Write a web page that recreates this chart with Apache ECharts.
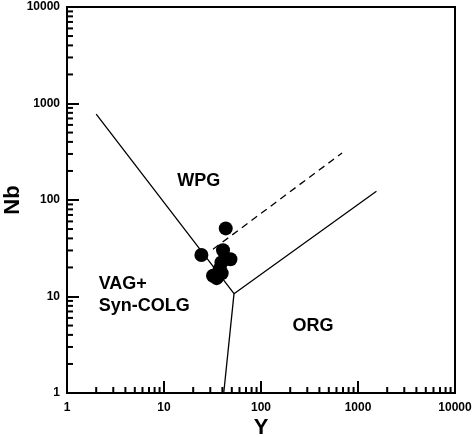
<!DOCTYPE html>
<html>
<head>
<meta charset="utf-8">
<script src="https://cdn.jsdelivr.net/npm/echarts@6/dist/echarts.min.js"></script>
<style>
  html, body { margin: 0; padding: 0; background: #fff; }
  #chart { width: 474px; height: 437px; }
</style>
</head>
<body>
<div id="chart"></div>
<script>
// samples: Y and Nb (ppm)
const sampleY = [43.3, 24.3, 40.6, 48.4, 39.1, 37.5, 39.3, 32.0, 34.9];
const sampleNb = [50.8, 26.9, 30.1, 24.3, 22.5, 19.2, 17.4, 16.4, 15.5];

// field boundaries (Pearce et al. style Nb-Y diagram)
const wpgLineY = [2.0, 52.7, 1549];
const wpgLineNb = [776, 10.7, 123];
const orgLineY = [52.7, 41.3];
const orgLineNb = [10.7, 1];
const dashedY = [32, 684];
const dashedNb = [30.9, 307];

// field names and where they sit
const fieldNames = ["WPG", "VAG+\nSyn-COLG", "ORG"];
const fieldY = [22.8, 2.12, 344];
const fieldNb = [159, 10.3, 4.95];

const majorTicks = [1, 10, 100, 1000, 10000];
const minorTicks = [
  2, 3, 4, 5, 6, 7, 8, 9,
  20, 30, 40, 50, 60, 70, 80, 90,
  200, 300, 400, 500, 600, 700, 800, 900,
  2000, 3000, 4000, 5000, 6000, 7000, 8000, 9000,
];

const zip = (a, b) => a.map((v, i) => [v, b[i]]);

const font = "Liberation Sans, Arial, sans-serif";

function minorTickItem(horizontal) {
  return function (params, api) {
    const p = api.coord([api.value(0), api.value(1)]);
    const len = 6;
    return {
      type: "line",
      shape: horizontal
        ? { x1: p[0], y1: p[1], x2: p[0], y2: p[1] - len }
        : { x1: p[0], y1: p[1], x2: p[0] + len, y2: p[1] },
      style: { stroke: "#000", lineWidth: 2 },
    };
  };
}

function logAxis(name, gap, labelMargin) {
  return {
    type: "log",
    logBase: 10,
    min: majorTicks[0],
    max: majorTicks[majorTicks.length - 1],
    name: name,
    nameLocation: "middle",
    nameGap: gap,
    nameMoveOverlap: false,
    nameTextStyle: { fontFamily: font, fontWeight: "bold", fontSize: 22, color: "#000" },
    axisLine: { show: true, lineStyle: { color: "#000", width: 2 } },
    axisTick: { show: true, inside: true, length: 12, lineStyle: { color: "#000", width: 2 } },
    minorTick: { show: false },
    splitLine: { show: false },
    axisLabel: {
      margin: labelMargin,
      fontFamily: font,
      fontWeight: "bold",
      fontSize: 12,
      color: "#000",
      formatter: (v) => String(Math.round(v)),
    },
  };
}

const chart = echarts.init(document.getElementById("chart"));

chart.setOption({
  animation: false,
  backgroundColor: "#fff",
  grid: {
    left: 67,
    right: 19,
    top: 7,
    bottom: 44,
    outerBoundsMode: "none",
    containLabel: false,
    show: true,
    borderColor: "#000",
    borderWidth: 2,
    backgroundColor: "transparent",
  },
  xAxis: logAxis("Y", 24, 9),
  yAxis: logAxis("Nb", 43, 7),
  series: [
    {
      type: "line",
      data: zip(wpgLineY, wpgLineNb),
      symbol: "none",
      lineStyle: { color: "#000", width: 1.3 },
    },
    {
      type: "line",
      data: zip(orgLineY, orgLineNb),
      symbol: "none",
      lineStyle: { color: "#000", width: 1.3 },
    },
    {
      type: "line",
      data: zip(dashedY, dashedNb),
      symbol: "none",
      lineStyle: { color: "#000", width: 1.3, type: [7, 5] },
    },
    {
      type: "scatter",
      data: zip(sampleY, sampleNb),
      symbol: "circle",
      symbolSize: 14,
      itemStyle: { color: "#000", opacity: 1 },
      z: 5,
    },
    {
      type: "scatter",
      symbolSize: 0,
      silent: true,
      itemStyle: { opacity: 1 },
      data: fieldNames.map((n, i) => ({
        value: [fieldY[i], fieldNb[i]],
        name: n,
        label: i === 1
          ? { position: "right", distance: 0, align: "left" }
          : { position: "inside" },
      })),
      label: {
        show: true,
        formatter: (p) => p.name,
        fontFamily: font,
        fontWeight: "bold",
        fontSize: 18,
        lineHeight: 22,
        color: "#000",
        opacity: 1,
      },
    },
    {
      type: "custom",
      renderItem: minorTickItem(true),
      data: minorTicks.map((v) => [v, 1]),
      silent: true,
      clip: false,
    },
    {
      type: "custom",
      renderItem: minorTickItem(false),
      data: minorTicks.map((v) => [1, v]),
      silent: true,
      clip: false,
    },
  ],
});

window.addEventListener("resize", () => chart.resize());
</script>
</body>
</html>
